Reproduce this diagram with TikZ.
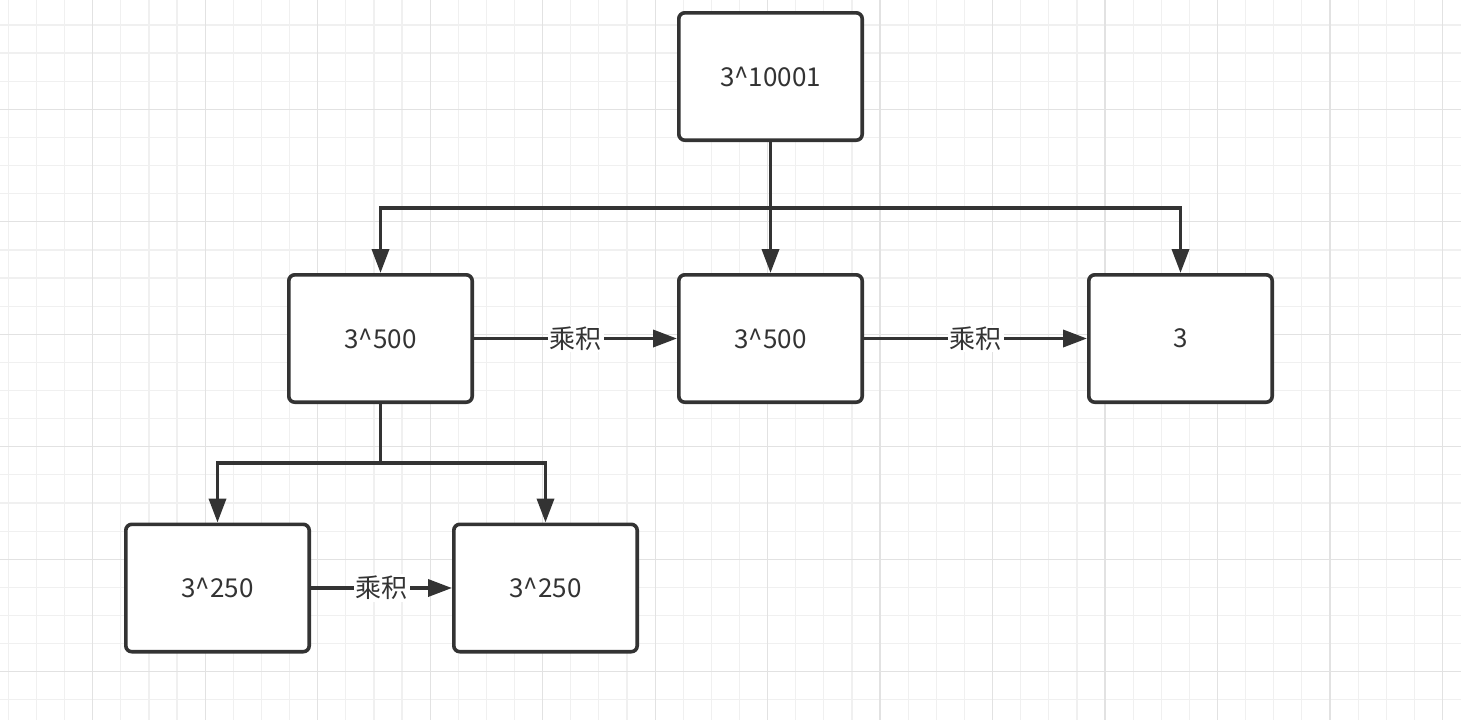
\documentclass[tikz,border=0pt]{standalone}
\usepackage{fontspec}
\setmainfont{Noto Sans CJK SC}
\usetikzlibrary{arrows.meta,calc}
\definecolor{ink}{HTML}{333333}
\definecolor{gridminor}{RGB}{240,240,240}
\definecolor{gridmajor}{RGB}{226,226,226}
\tikzset{>={Triangle[length=12pt,width=8.5pt]}, line/.style={draw=ink, line width=1.8pt},
box/.style={line, rounded corners=3pt, fill=white, text=ink, minimum width=91.7pt, minimum height=63.7pt, align=center, font=\fontsize{13pt}{15pt}\selectfont},
lbl/.style={fill=white, text=ink, inner sep=1pt, font=\fontsize{13pt}{15pt}\selectfont}}

\begin{document}
\begin{tikzpicture}[x=0.5pt, y=-0.5pt]
\useasboundingbox[fill=white] (0,0) rectangle (1461,720);

% background grid
\foreach \k in {-3,...,48}
  \draw[gridminor, line width=0.6pt] ({92.7+\k*28.12},0) -- ++(0,720);
\foreach \k in {-3,...,21}
  \draw[gridminor, line width=0.6pt] (0,{109.3+\k*28.12}) -- ++(1461,0);
\foreach \k in {0,4,...,48}
  \draw[gridmajor, line width=0.6pt] ({92.7+\k*28.12},0) -- ++(0,720);
\foreach \k in {0,4,...,20}
  \draw[gridmajor, line width=0.6pt] (0,{109.3+\k*28.12}) -- ++(1461,0);

\node[box] (top) at (770.5,76.5) {3\^{}10001};
\node[box] (left) at (380.5,338.5) {3\^{}500};
\node[box] (mid) at (770.5,338.5) {3\^{}500};
\node[box] (right) at (1180.5,338.5) {3};
\node[box] (lowl) at (217.5,588) {3\^{}250};
\node[box] (lowr) at (545.5,588) {3\^{}250};

% split of the top value
\coordinate (fork) at (770.5,208);
\draw[->,line] (top) -- (mid);
\draw[->,line] (top.south) -- (fork) -| (left.north);
\draw[->,line] (fork) -| (right.north);

% split of 3^500
\coordinate (fork2) at (380.5,463);
\draw[->,line] (left.south) -- (fork2) -| (lowl.north);
\draw[->,line] (fork2) -| (lowr.north);

% products
\draw[->,line] (left) -- node[lbl] {乘积} (mid);
\draw[->,line] (mid) -- node[lbl] {乘积} (right);
\draw[->,line] (lowl) -- node[lbl] {乘积} (lowr);
\end{tikzpicture}
\end{document}
